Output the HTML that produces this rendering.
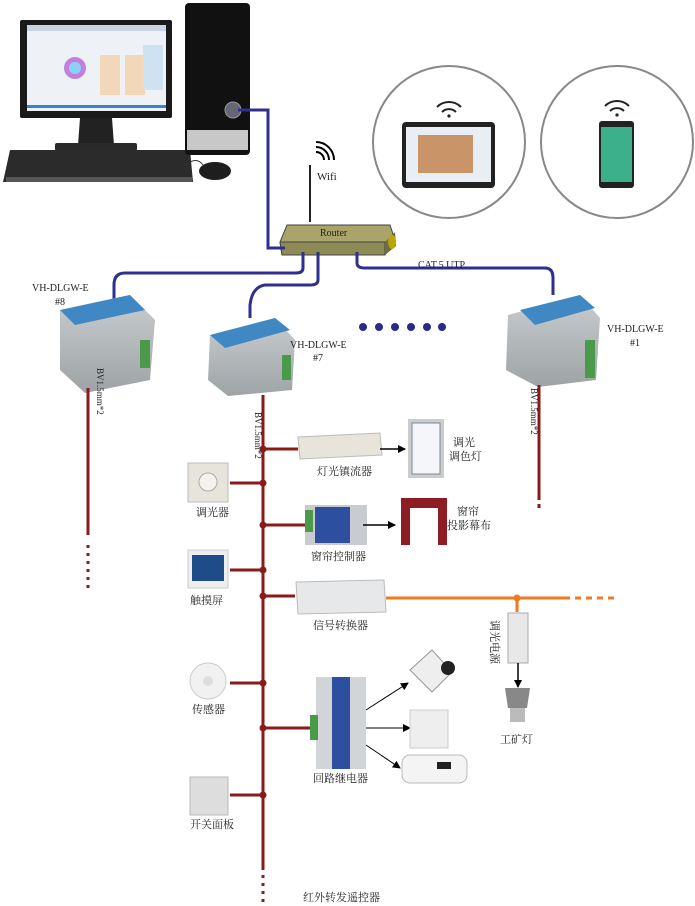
<!DOCTYPE html>
<html><head><meta charset="utf-8"><style>
html,body{margin:0;padding:0;background:#fff}
svg{display:block}
text{font-family:"Liberation Serif","Noto Serif CJK SC",serif;fill:#222}
.cn{font-family:"Liberation Serif","Noto Serif CJK SC",serif;font-size:11px}
</style></head><body>
<svg width="695" height="906" viewBox="0 0 695 906" xmlns="http://www.w3.org/2000/svg">
<defs>
<marker id="ah" markerWidth="8" markerHeight="8" refX="7" refY="4" orient="auto" markerUnits="userSpaceOnUse"><path d="M0,0 L8,4 L0,8z" fill="#000"/></marker>
<linearGradient id="mod" x1="0" y1="0" x2="0" y2="1"><stop offset="0" stop-color="#c9cdd0"/><stop offset="1" stop-color="#9ea3a6"/></linearGradient>
</defs>

<!-- Monitor -->
<rect x="20" y="20" width="152" height="98" fill="#1a1a1a" rx="2"/>
<rect x="27" y="25" width="139" height="86" fill="#eef1f5"/>
<rect x="27" y="25" width="139" height="6" fill="#c8d4e4"/>
<circle cx="75" cy="68" r="11" fill="#c080e0"/><circle cx="75" cy="68" r="6" fill="#8fd0f0"/>
<rect x="100" y="55" width="20" height="40" fill="#f2d7b8"/><rect x="125" y="55" width="20" height="40" fill="#f2d7b8"/>
<rect x="143" y="45" width="20" height="45" fill="#cfe2f2"/>
<rect x="27" y="105" width="139" height="3" fill="#3f7fd0"/>
<path d="M80,118 L112,118 L114,145 L78,145z" fill="#222"/>
<rect x="55" y="143" width="82" height="8" fill="#2a2a2a" rx="2"/>
<!-- keyboard -->
<path d="M10,150 L190,150 L193,182 L3,182z" fill="#2b2b2b"/>
<rect x="6" y="177" width="186" height="5" fill="#555"/>
<ellipse cx="215" cy="171" rx="16" ry="9" fill="#1e1e1e"/>
<path d="M190,162 Q198,158 203,165" stroke="#333" fill="none"/>
<!-- Tower -->
<rect x="185" y="3" width="65" height="152" fill="#111" rx="4"/>
<rect x="187" y="130" width="61" height="20" fill="#c8c8c8"/>
<circle cx="233" cy="110" r="8" fill="#667" stroke="#999"/>
<!-- wifi near router -->
<line x1="310" y1="222" x2="310" y2="165" stroke="#222" stroke-width="2"/>
<path d="M316,152 a8,8 0 0 1 8,8 M316,147 a13,13 0 0 1 13,13 M316,142 a18,18 0 0 1 18,18" stroke="#000" stroke-width="2" fill="none"/>
<text x="317" y="180" font-size="11">Wifi</text>
<!-- Circles -->
<circle cx="449" cy="142" r="76" fill="#fff" stroke="#888" stroke-width="2"/>
<circle cx="617" cy="142" r="76" fill="#fff" stroke="#888" stroke-width="2"/>
<path d="M437,107 a17,17 0 0 1 24,0 M442,112 a10,10 0 0 1 14,0" stroke="#222" stroke-width="2" fill="none"/><circle cx="449" cy="116" r="1.6" fill="#222"/>
<path d="M605,106 a17,17 0 0 1 24,0 M610,111 a10,10 0 0 1 14,0" stroke="#222" stroke-width="2" fill="none"/><circle cx="617" cy="115" r="1.6" fill="#222"/>
<rect x="402" y="122" width="93" height="66" rx="4" fill="#222"/>
<rect x="406" y="127" width="85" height="55" fill="#e9eef4"/>
<rect x="418" y="135" width="55" height="38" fill="#c99468"/>
<rect x="599" y="121" width="35" height="67" rx="3" fill="#222"/>
<rect x="601" y="127" width="31" height="55" fill="#3bb08a"/>
<!-- Router -->
<path d="M287,225 L390,225 L395,240 L385,255 L282,255 L280,242z" fill="#a9a46a" stroke="#444"/>
<path d="M280,242 L385,242 L385,255 L282,255z" fill="#8d8a55" stroke="#444"/>
<path d="M385,242 L395,232 L396,246 L385,255z" fill="#6f6c40"/>
<ellipse cx="392" cy="242" rx="4" ry="7" fill="#b9a600"/>
<text x="320" y="236" font-size="10">Router</text>
<!-- blue cables -->
<g stroke="#2f2f8f" stroke-width="3" fill="none">
<path d="M238,110 L268,110 L268,248 L285,248"/>
<path d="M303,252 L303,268 Q303,273 296,273 L125,273 Q114,273 114,285 L114,300"/>
<path d="M318,252 L318,280 Q318,285 310,285 L265,285 Q252,287 250,305 L250,318"/>
<path d="M357,252 L357,263 Q357,268 365,268 L545,268 Q553,268 553,278 L553,295"/>
</g>
<text x="418" y="268" font-size="10">CAT.5 UTP</text>
<g fill="#2a2a8c"><circle cx="363" cy="327" r="4"/><circle cx="379" cy="327" r="4"/><circle cx="395" cy="327" r="4"/><circle cx="411" cy="327" r="4"/><circle cx="427" cy="327" r="4"/><circle cx="442" cy="327" r="4"/></g>
<!-- modules -->
<g>
<path d="M60,310 L130,295 L155,320 L150,380 L85,393 L60,370z" fill="url(#mod)"/>
<path d="M60,310 L130,295 L145,310 L75,325z" fill="#3f88c4"/>
<rect x="140" y="340" width="10" height="28" fill="#4a9a4a"/>
</g>
<g>
<path d="M210,335 L275,318 L295,340 L292,390 L228,396 L208,380z" fill="url(#mod)"/>
<path d="M210,335 L275,318 L290,330 L225,348z" fill="#3f88c4"/>
<rect x="282" y="355" width="9" height="25" fill="#4a9a4a"/>
</g>
<g>
<path d="M508,315 L580,295 L600,318 L596,380 L538,387 L506,370z" fill="url(#mod)"/>
<path d="M520,310 L580,295 L595,308 L535,325z" fill="#3f88c4"/>
<rect x="585" y="340" width="10" height="38" fill="#4a9a4a"/>
</g>
<text x="32" y="291" font-size="10">VH-DLGW-E</text><text x="55" y="305" font-size="10">#8</text>
<text x="290" y="348" font-size="10">VH-DLGW-E</text><text x="313" y="361" font-size="10">#7</text>
<text x="607" y="332" font-size="10">VH-DLGW-E</text><text x="630" y="346" font-size="10">#1</text>
<!-- red buses -->
<g stroke="#8b1a1a" stroke-width="3" fill="none">
<path d="M88,388 L88,535"/><path d="M88,545 L88,590" stroke-dasharray="3,5"/>
<path d="M539,385 L539,500"/><path d="M539,508 L539,505" /><path d="M539,508 L539,505"/>
<path d="M539,505 L539,505"/>
<path d="M539,506 L539,505"/>
<path d="M263,395 L263,870"/><path d="M263,875 L263,905" stroke-dasharray="3,5"/>
<path d="M230,483 L263,483 M230,570 L263,570 M230,683 L263,683 M230,795 L263,795"/>
<path d="M263,449 L298,449 M263,525 L308,525 M263,596 L295,596 M263,728 L310,728"/>
</g>
<path d="M539,448 L539,505" stroke="#8b1a1a" stroke-width="3" stroke-dasharray="3,5"/>
<g fill="#8b1a1a"><circle cx="263" cy="449" r="3.5"/><circle cx="263" cy="483" r="3.5"/><circle cx="263" cy="525" r="3.5"/><circle cx="263" cy="570" r="3.5"/><circle cx="263" cy="596" r="3.5"/><circle cx="263" cy="683" r="3.5"/><circle cx="263" cy="728" r="3.5"/><circle cx="263" cy="795" r="3.5"/></g>
<text font-size="9" transform="translate(97,368) rotate(90)">BV1.5mm*2</text>
<text font-size="9" transform="translate(255,412) rotate(90)">BV1.5mm*2</text>
<text font-size="9" transform="translate(531,388) rotate(90)">BV1.5mm*2</text>
<!-- orange -->
<path d="M386,598 L570,598" stroke="#f07a20" stroke-width="3"/>
<path d="M575,598 L615,598" stroke="#f07a20" stroke-width="3" stroke-dasharray="6,5"/>
<path d="M517,598 L517,612" stroke="#f07a20" stroke-width="3"/><circle cx="517" cy="598" r="3.5" fill="#f07a20"/>
<!-- devices -->
<path d="M298,437 L380,433 L382,455 L300,459z" fill="#e8e4da" stroke="#bbb"/>
<line x1="380" y1="449" x2="405" y2="449" stroke="#000" stroke-width="1.5" marker-end="url(#ah)"/>
<rect x="408" y="419" width="36" height="59" fill="#ccc"/><rect x="412" y="423" width="28" height="51" fill="#f4f6fa" stroke="#789"/>
<text class="cn" x="453" y="446">调光</text><text class="cn" x="449" y="460">调色灯</text>
<text class="cn" x="317" y="475">灯光镇流器</text>
<rect x="188" y="463" width="40" height="39" fill="#e7e4dc" stroke="#bbb"/><circle cx="208" cy="482" r="9" fill="#f5f3ee" stroke="#aaa"/>
<text class="cn" x="196" y="516">调光器</text>
<rect x="305" y="505" width="62" height="40" fill="#c8ccd0"/><rect x="315" y="507" width="35" height="36" fill="#2e4fa0"/><rect x="305" y="510" width="8" height="22" fill="#4a9a4a"/>
<line x1="363" y1="525" x2="395" y2="525" stroke="#000" stroke-width="1.5" marker-end="url(#ah)"/>
<rect x="401" y="498" width="46" height="49" fill="#fff"/><path d="M401,498 L447,498 L447,508 L401,508z M401,498 L410,498 L410,545 L401,545z M438,498 L447,498 L447,545 L438,545z" fill="#8e1c24"/>
<text class="cn" x="457" y="515">窗帘</text><text class="cn" x="447" y="529">投影幕布</text>
<text class="cn" x="311" y="560">窗帘控制器</text>
<rect x="188" y="550" width="40" height="38" fill="#eee" stroke="#ccc"/><rect x="192" y="555" width="32" height="26" fill="#1f4b88"/>
<text class="cn" x="190" y="604">触摸屏</text>
<path d="M296,582 L384,580 L386,612 L298,614z" fill="#e6e8ea" stroke="#bbb"/>
<text class="cn" x="313" y="629">信号转换器</text>
<rect x="508" y="613" width="20" height="50" fill="#e8e8e8" stroke="#aaa"/>
<text class="cn" transform="translate(491,620) rotate(90)">调光电源</text>
<line x1="518" y1="663" x2="518" y2="687" stroke="#000" stroke-width="1.5" marker-end="url(#ah)"/>
<path d="M505,688 L530,688 L527,708 L508,708z" fill="#888"/><rect x="510" y="708" width="15" height="14" fill="#bbb"/>
<text class="cn" x="500" y="743">工矿灯</text>
<circle cx="208" cy="681" r="18" fill="#f1f1f1" stroke="#ccc"/><circle cx="208" cy="681" r="5" fill="#ddd"/>
<text class="cn" x="192" y="713">传感器</text>
<rect x="316" y="677" width="50" height="92" fill="#d2d5d8"/><rect x="332" y="677" width="18" height="92" fill="#2e4fa0"/><rect x="310" y="715" width="8" height="25" fill="#4a9a4a"/>
<line x1="366" y1="710" x2="408" y2="683" stroke="#000" marker-end="url(#ah)"/>
<line x1="366" y1="728" x2="410" y2="728" stroke="#000" marker-end="url(#ah)"/>
<line x1="366" y1="745" x2="400" y2="768" stroke="#000" marker-end="url(#ah)"/>
<path d="M410,670 L432,650 L452,672 L432,692z" fill="#eee" stroke="#999"/><circle cx="448" cy="668" r="7" fill="#222"/>
<rect x="410" y="710" width="38" height="38" fill="#eee" stroke="#ccc"/>
<rect x="402" y="755" width="65" height="28" rx="8" fill="#f4f4f4" stroke="#bbb"/><rect x="437" y="762" width="14" height="7" fill="#222"/>
<text class="cn" x="313" y="782">回路继电器</text>
<rect x="190" y="777" width="38" height="38" fill="#ddd" stroke="#bbb"/>
<text class="cn" x="190" y="828">开关面板</text>
<text class="cn" x="303" y="901">红外转发遥控器</text>
</svg>
</body></html>
